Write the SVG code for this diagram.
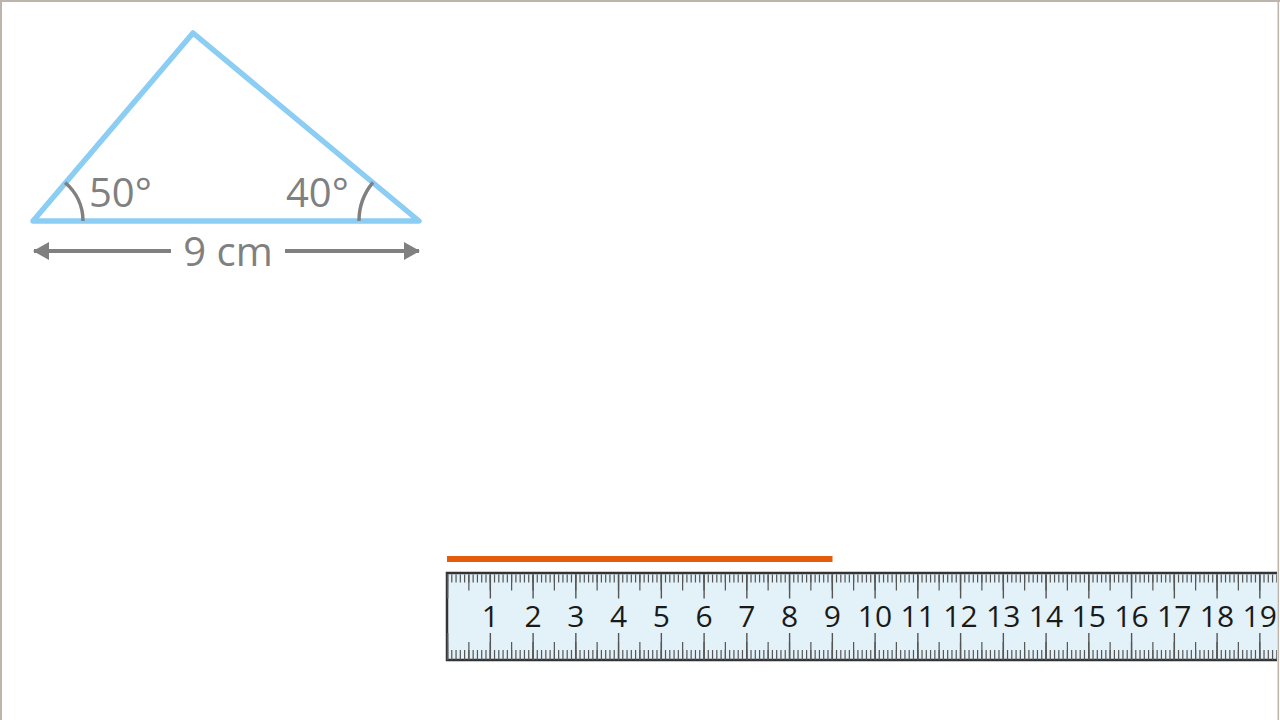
<svg xmlns="http://www.w3.org/2000/svg" width="1280" height="720" viewBox="0 0 1280 720">
  <style>
    .lbl { font-family: "Open Sans", "Liberation Sans", sans-serif; fill: #808080; font-size: 40px; }
    .num { font-family: "Open Sans", "Liberation Sans", sans-serif; fill: #1a1a1a; font-size: 30px; text-anchor: middle; }
    .arc { fill: none; stroke: #808080; stroke-width: 3.5; }
    .tick { stroke: #555; fill: none; }
  </style>
  <defs>
    <marker id="ah" viewBox="0 0 16 18" refX="15" refY="9" markerWidth="16" markerHeight="18" markerUnits="userSpaceOnUse" orient="auto">
      <path d="M0,0 L16,9 L0,18 Z" fill="#808080"/>
    </marker>
  </defs>
  <rect width="1280" height="720" fill="#fff"/>

  <g id="triangle">
    <polygon points="33,221 193,33 419,221" fill="none" stroke="#8ccdf4" stroke-width="5.5" stroke-linejoin="round"/>
    <path class="arc" d="M83,221 A50,50 0 0 0 65.1,182.7"/>
    <path class="arc" d="M359,221 A60,60 0 0 1 373,182.4"/>
    <text class="lbl" x="89" y="207">50°</text>
    <text class="lbl" x="286" y="207">40°</text>
  </g>

  <g id="connectors">
    <line x1="171" y1="251" x2="34" y2="251" stroke="#808080" stroke-width="4" marker-end="url(#ah)"/>
    <line x1="285" y1="251" x2="419" y2="251" stroke="#808080" stroke-width="4" marker-end="url(#ah)"/>
  </g>
  <g id="length-label">
    <text class="lbl" x="228" y="266" text-anchor="middle">9 cm</text>
  </g>

  <g id="orange-line">
    <line x1="447" y1="559" x2="832.5" y2="559" stroke="#e35d0d" stroke-width="6"/>
  </g>

  <g id="ruler">
    <rect x="447" y="573" width="850" height="87" fill="#e3f1f9" stroke="#333" stroke-width="2.5"/>
    <line class="tick" x1="446.9" y1="578.5" x2="1277" y2="578.5" stroke-width="8" stroke-dasharray="1.2 3.075"/>
    <line class="tick" x1="446.9" y1="582.5" x2="1277" y2="582.5" stroke-width="16" stroke-dasharray="1.2 20.175"/>
    <line class="tick" x1="446.9" y1="586.5" x2="1277" y2="586.5" stroke-width="24" stroke-dasharray="1.4 41.35"/>
    <line class="tick" x1="446.9" y1="655" x2="1277" y2="655" stroke-width="10" stroke-dasharray="1.2 3.075"/>
    <line class="tick" x1="446.9" y1="651" x2="1277" y2="651" stroke-width="18" stroke-dasharray="1.2 20.175"/>
    <line class="tick" x1="446.9" y1="646.5" x2="1277" y2="646.5" stroke-width="27" stroke-dasharray="1.4 41.35"/>
    <text class="num" x="490.25" y="627">1</text>
    <text class="num" x="533" y="627">2</text>
    <text class="num" x="575.75" y="627">3</text>
    <text class="num" x="618.5" y="627">4</text>
    <text class="num" x="661.25" y="627">5</text>
    <text class="num" x="704" y="627">6</text>
    <text class="num" x="746.75" y="627">7</text>
    <text class="num" x="789.5" y="627">8</text>
    <text class="num" x="832.25" y="627">9</text>
    <text class="num" x="875" y="627">10</text>
    <text class="num" x="917.75" y="627">11</text>
    <text class="num" x="960.5" y="627">12</text>
    <text class="num" x="1003.25" y="627">13</text>
    <text class="num" x="1046" y="627">14</text>
    <text class="num" x="1088.75" y="627">15</text>
    <text class="num" x="1131.5" y="627">16</text>
    <text class="num" x="1174.25" y="627">17</text>
    <text class="num" x="1217" y="627">18</text>
    <text class="num" x="1259.75" y="627">19</text>
  </g>

  <g id="frame">
    <rect x="1277" y="0" width="3" height="720" fill="#fff"/>
    <line x1="1" y1="0" x2="1" y2="720" stroke="#bdb5ab" stroke-width="2"/>
    <line x1="0" y1="1" x2="1280" y2="1" stroke="#bdb5ab" stroke-width="2"/>
    <line x1="1278.3" y1="0" x2="1278.3" y2="720" stroke="#bdb5ab" stroke-width="1.6"/>
  </g>
</svg>
